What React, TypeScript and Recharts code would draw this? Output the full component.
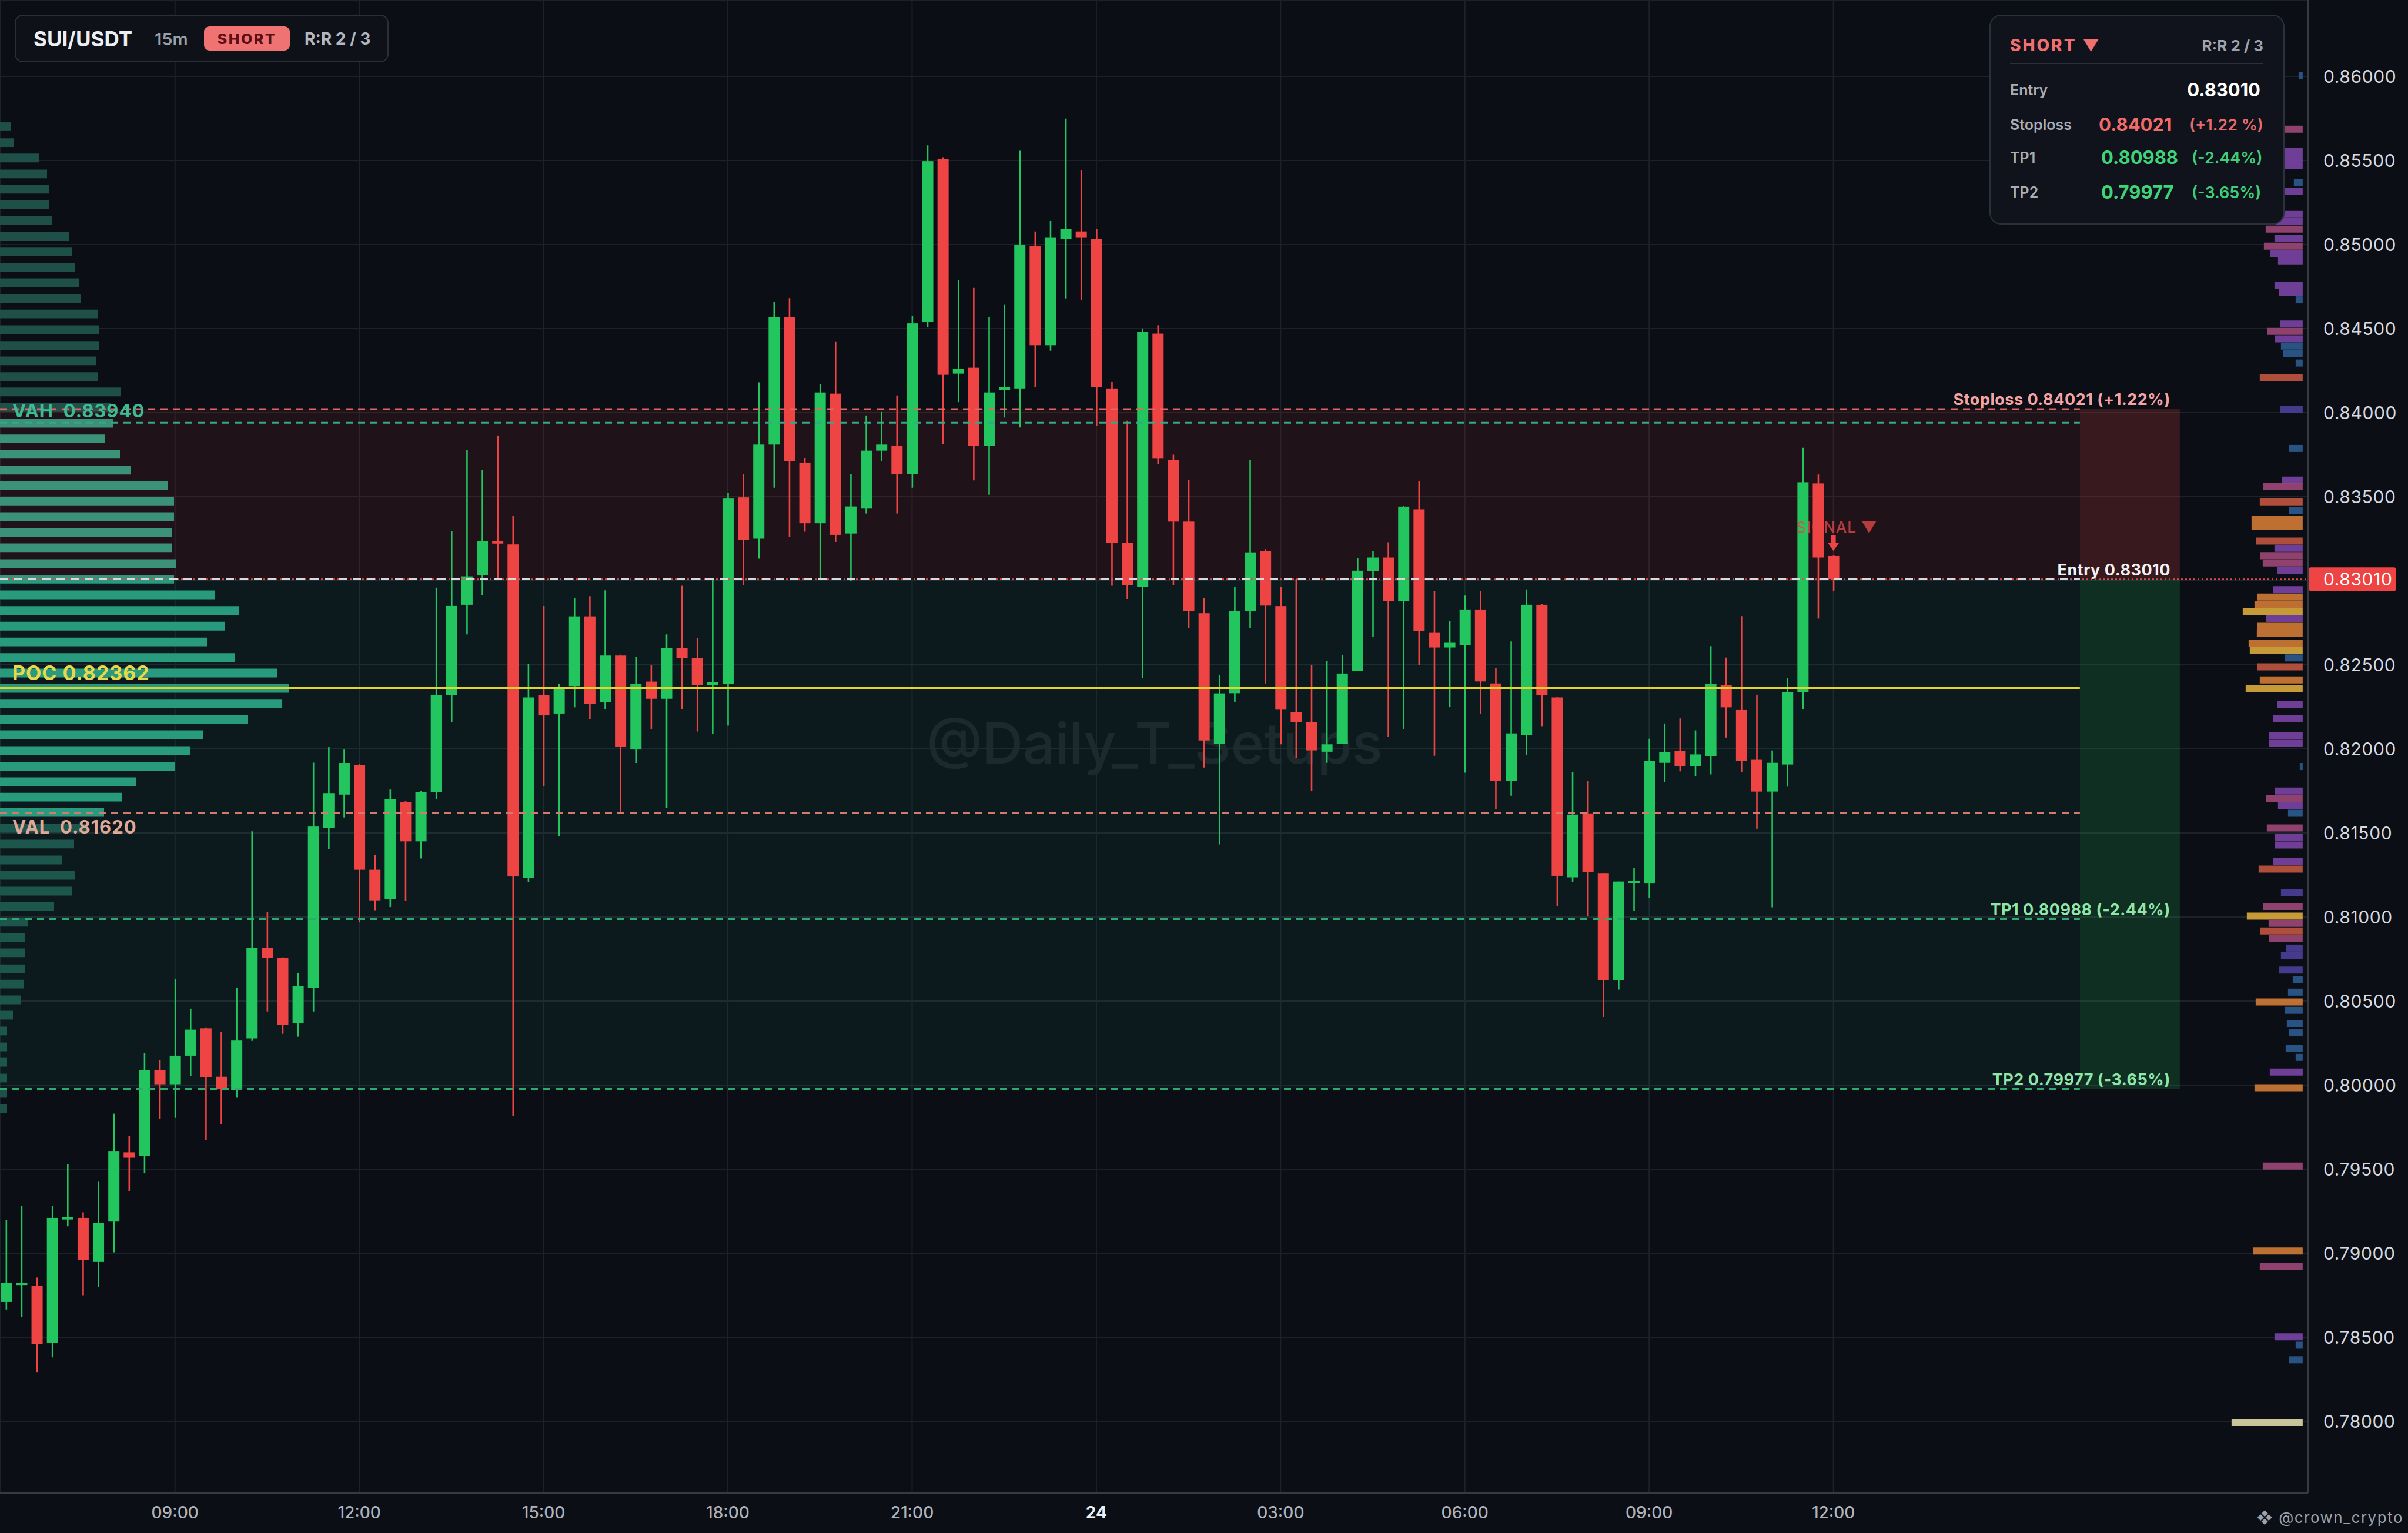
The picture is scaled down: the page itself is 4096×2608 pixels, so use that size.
import React from 'react';
import {
  ComposedChart,
  Bar,
  XAxis,
  YAxis,
  CartesianGrid,
  ReferenceLine,
  ReferenceArea,
  ReferenceDot,
} from 'recharts';

// ---------------- DATA ----------------
const opens = [
  0.7871, 0.78815, 0.78805, 0.78468, 0.79205, 0.7921, 0.78948, 0.79188, 0.796, 0.7958,
  0.80088, 0.80005, 0.80175, 0.80338, 0.8005, 0.7997, 0.80278, 0.80815, 0.80758, 0.80368,
  0.8058, 0.8153, 0.81728, 0.81905, 0.81281, 0.81107, 0.81685, 0.8145, 0.81744, 0.8232,
  0.82857, 0.83034, 0.83237, 0.83216, 0.81231, 0.8232, 0.8221, 0.82373, 0.82788, 0.82277,
  0.82555, 0.81996, 0.824, 0.82298, 0.826, 0.82539, 0.82378, 0.82387, 0.83496, 0.8325,
  0.8381, 0.8457, 0.83703, 0.83342, 0.84113, 0.83281, 0.83429, 0.83774, 0.83802, 0.83634,
  0.84541, 0.8551, 0.84232, 0.84267, 0.83803, 0.84133, 0.84144, 0.8499, 0.84401, 0.85034,
  0.85078, 0.85034, 0.84144, 0.83224, 0.82962, 0.8447, 0.83719, 0.83352, 0.82807, 0.8203,
  0.82331, 0.82821, 0.83177, 0.82849, 0.82217, 0.82159, 0.81983, 0.8203, 0.82462, 0.83057,
  0.83138, 0.8288, 0.83425, 0.8269, 0.82603, 0.82618, 0.82829, 0.82389, 0.81808, 0.82081,
  0.82857, 0.82306, 0.81236, 0.81616, 0.81258, 0.80625, 0.81205, 0.81199, 0.81917, 0.81987,
  0.81898, 0.81958, 0.82379, 0.82231, 0.81935, 0.81746, 0.81907, 0.82338, 0.83579, 0.83147,
];
const highs = [
  0.79198, 0.7928, 0.78855, 0.7928, 0.7953, 0.79243, 0.79425, 0.7983, 0.79698, 0.8019,
  0.8015, 0.8063, 0.80455, 0.8034, 0.80318, 0.8058, 0.8151, 0.8103, 0.8076, 0.80668,
  0.81918, 0.8201, 0.81996, 0.8191, 0.8137, 0.81758, 0.8169, 0.8175, 0.82959, 0.83296,
  0.83778, 0.83658, 0.83864, 0.83385, 0.82507, 0.8285, 0.82387, 0.82895, 0.82908, 0.82943,
  0.8256, 0.82547, 0.82499, 0.82681, 0.8297, 0.8266, 0.83007, 0.83524, 0.83634, 0.8418,
  0.8466, 0.84681, 0.8373, 0.84171, 0.84424, 0.83634, 0.83983, 0.84004, 0.84102, 0.84577,
  0.8559, 0.85519, 0.8479, 0.84742, 0.8457, 0.84641, 0.85558, 0.85078, 0.8514, 0.85749,
  0.85442, 0.85091, 0.84182, 0.83952, 0.84501, 0.8452, 0.8375, 0.83598, 0.82896, 0.82439,
  0.82962, 0.83719, 0.83188, 0.82962, 0.8301, 0.82498, 0.82521, 0.8256, 0.83133, 0.83177,
  0.83229, 0.83445, 0.83591, 0.8294, 0.82759, 0.82912, 0.8294, 0.82479, 0.82639, 0.82948,
  0.8286, 0.8231, 0.8186, 0.8181, 0.8126, 0.81211, 0.8129, 0.8206, 0.82151, 0.82181,
  0.8211, 0.82611, 0.82543, 0.82789, 0.82322, 0.8199, 0.8242, 0.83791, 0.83632, 0.8315,
];
const lows = [
  0.78665, 0.78622, 0.78293, 0.7838, 0.7916, 0.7875, 0.788, 0.79005, 0.79368, 0.79475,
  0.798, 0.79805, 0.80055, 0.79673, 0.79768, 0.79925, 0.80263, 0.80438, 0.80305, 0.80288,
  0.80438, 0.81405, 0.81592, 0.80968, 0.8104, 0.81059, 0.81097, 0.81348, 0.81699, 0.82159,
  0.82681, 0.82916, 0.8301, 0.79818, 0.8121, 0.81776, 0.81482, 0.82247, 0.82178, 0.82237,
  0.81621, 0.81916, 0.82119, 0.81648, 0.82237, 0.82103, 0.82087, 0.82138, 0.82974, 0.83131,
  0.83553, 0.83262, 0.83292, 0.83007, 0.83231, 0.83, 0.834, 0.83711, 0.834, 0.83553,
  0.84508, 0.83812, 0.84062, 0.83597, 0.83511, 0.83971, 0.83912, 0.84152, 0.84368, 0.84679,
  0.8467, 0.83922, 0.8297, 0.82892, 0.8242, 0.83695, 0.82974, 0.82717, 0.81889, 0.81432,
  0.8228, 0.8272, 0.82389, 0.82027, 0.81947, 0.81749, 0.81917, 0.8203, 0.82462, 0.82667,
  0.82072, 0.82119, 0.82498, 0.81959, 0.82248, 0.81858, 0.82209, 0.8164, 0.81721, 0.81963,
  0.82135, 0.81065, 0.8121, 0.81005, 0.80404, 0.80568, 0.81035, 0.81115, 0.81803, 0.81866,
  0.81839, 0.81848, 0.82067, 0.8186, 0.81525, 0.81058, 0.81775, 0.82238, 0.82775, 0.82937,
];
const closes = [
  0.78825, 0.7882, 0.7846, 0.7921, 0.7921, 0.7896, 0.7918, 0.79608, 0.79568, 0.80088,
  0.80005, 0.80175, 0.8033, 0.80048, 0.79975, 0.80265, 0.80815, 0.80758, 0.8036, 0.80588,
  0.81538, 0.81737, 0.81916, 0.81281, 0.81099, 0.81701, 0.8145, 0.81744, 0.8232, 0.8285,
  0.83026, 0.83237, 0.83221, 0.81241, 0.82306, 0.82199, 0.8236, 0.82788, 0.82269, 0.82555,
  0.82012, 0.82387, 0.82298, 0.826, 0.82539, 0.82378, 0.82397, 0.83489, 0.83243, 0.8381,
  0.8457, 0.83711, 0.83342, 0.8412, 0.83273, 0.83442, 0.83774, 0.8381, 0.83634, 0.84531,
  0.85496, 0.84225, 0.84259, 0.83803, 0.8412, 0.84152, 0.84998, 0.84401, 0.8504, 0.85091,
  0.8504, 0.84152, 0.83224, 0.82974, 0.84482, 0.83726, 0.83352, 0.82821, 0.8205, 0.8233,
  0.82821, 0.83169, 0.82852, 0.82233, 0.82159, 0.81991, 0.82027, 0.82448, 0.8306, 0.83138,
  0.8288, 0.83441, 0.82701, 0.82603, 0.82631, 0.82829, 0.82401, 0.81808, 0.82092, 0.82857,
  0.82318, 0.81245, 0.81609, 0.81267, 0.80625, 0.81211, 0.8121, 0.8193, 0.8198, 0.81898,
  0.81967, 0.82386, 0.82247, 0.81928, 0.81746, 0.81917, 0.82338, 0.83586, 0.83138, 0.8301,
];

const timeTickIdx = [11, 23, 35, 47, 59, 71, 83, 95, 107, 119];
const timeTickLabels = ['09:00', '12:00', '15:00', '18:00', '21:00', '24', '03:00', '06:00', '09:00', '12:00'];
const priceTicks = [
  0.78, 0.785, 0.79, 0.795, 0.8, 0.805, 0.81, 0.815, 0.82, 0.825, 0.83, 0.835, 0.84, 0.845, 0.85, 0.855, 0.86,
];

const ENTRY = 0.8301;
const STOPLOSS = 0.84021;
const TP1 = 0.80988;
const TP2 = 0.79977;
const VAH = 0.8394;
const POC = 0.82362;
const VAL = 0.8162;

const leftProfilePrices = [
  0.85701, 0.85606, 0.85515, 0.8542, 0.85329, 0.85236, 0.85143, 0.85047, 0.84956, 0.84864,
  0.84773, 0.8468, 0.84587, 0.84493, 0.844, 0.84308, 0.84214, 0.84123, 0.8403, 0.83937,
  0.83844, 0.83752, 0.83658, 0.83567, 0.83474, 0.83381, 0.83288, 0.83196, 0.83102, 0.83009,
  0.82916, 0.82823, 0.8273, 0.82636, 0.82543, 0.82451, 0.8236, 0.82267, 0.82175, 0.82084,
  0.8199, 0.81895, 0.81804, 0.81713, 0.81622, 0.81528, 0.81434, 0.81339, 0.81248, 0.81154,
  0.81063, 0.80969, 0.80878, 0.80787, 0.80692, 0.80601, 0.80507, 0.80416, 0.80322, 0.80227,
  0.80136, 0.80042, 0.79951, 0.7986,
];
const leftProfileVolumes = [
  19, 24, 67, 80, 84, 84, 88, 118, 123, 127,
  134, 138, 166, 169, 169, 164, 167, 205, 188, 192,
  178, 204, 222, 285, 296, 296, 293, 293, 299, 296,
  366, 407, 383, 352, 399, 472, 492, 480, 422, 346,
  323, 297, 232, 208, 177, 150, 126, 106, 128, 123,
  92, 47, 42, 42, 42, 41, 36, 22, 12, 12,
  12, 12, 12, 12,
];

const rightProfilePrices = [
  0.86005, 0.85686, 0.85556, 0.85512, 0.85469, 0.85367, 0.85315, 0.85179, 0.85136, 0.85092,
  0.85035, 0.8499, 0.84947, 0.84903, 0.84759, 0.84715, 0.84671, 0.84527, 0.84483, 0.84439,
  0.84396, 0.84353, 0.84295, 0.84208, 0.84019, 0.83787, 0.83599, 0.83561, 0.83469, 0.83416,
  0.83367, 0.83323, 0.83236, 0.83193, 0.83149, 0.83106, 0.83063, 0.82947, 0.82903, 0.8286,
  0.82816, 0.82773, 0.82729, 0.82685, 0.82628, 0.82584, 0.82541, 0.82488, 0.8241, 0.82358,
  0.82266, 0.82178, 0.82077, 0.82033, 0.81895, 0.81749, 0.81705, 0.81661, 0.81617, 0.8153,
  0.81472, 0.81428, 0.81332, 0.81285, 0.81145, 0.81063, 0.81005, 0.80962, 0.80917, 0.80874,
  0.80815, 0.80772, 0.80684, 0.80626, 0.80553, 0.80495, 0.80445, 0.80364, 0.80311, 0.80218,
  0.80165, 0.80078, 0.79984, 0.79518, 0.79013, 0.7892, 0.78503, 0.78453, 0.78366, 0.77993,
];
const rightProfileVolumes = [
  7, 30, 30, 30, 30, 15, 30, 48, 48, 63,
  48, 66, 55, 42, 48, 40, 12, 38, 60, 47,
  37, 33, 12, 73, 38, 23, 35, 67, 73, 23,
  87, 87, 79, 48, 72, 68, 43, 50, 77, 82,
  102, 62, 77, 78, 92, 90, 30, 77, 73, 97,
  43, 50, 57, 57, 5, 47, 62, 42, 25, 61,
  47, 47, 50, 75, 37, 67, 95, 58, 72, 57,
  28, 37, 40, 17, 25, 80, 30, 27, 23, 29,
  12, 56, 82, 68, 84, 73, 48, 12, 23, 121,
];
// b=blue, m=mauve, p=purple, r=rust, o=orange, y=yellow, i=indigo, c=cream
const rightProfileKinds = [
  'b', 'm', 'p', 'p', 'p', 'b', 'p', 'p', 'p', 'm',
  'p', 'm', 'p', 'p', 'p', 'p', 'b', 'p', 'm', 'p',
  'b', 'b', 'b', 'r', 'i', 'b', 'p', 'm', 'r', 'b',
  'o', 'o', 'r', 'p', 'm', 'm', 'p', 'p', 'o', 'o',
  'y', 'p', 'o', 'o', 'o', 'y', 'b', 'r', 'o', 'y',
  'p', 'p', 'p', 'p', 'b', 'p', 'm', 'p', 'b', 'm',
  'p', 'p', 'p', 'r', 'i', 'm', 'y', 'm', 'r', 'm',
  'i', 'i', 'i', 'b', 'b', 'o', 'b', 'b', 'b', 'b',
  'b', 'p', 'o', 'm', 'o', 'm', 'p', 'b', 'b', 'c',
];

// ---------------- LAYOUT / STYLE ----------------
const W = 4096;
const H = 2608;
const BG = '#0b0e15';
const GREEN = '#22c55e';
const RED = '#ef4444';
const FONT = 'Inter, "Noto Sans", "DejaVu Sans", sans-serif';

const Y_MIN = 0.775734;
const Y_MAX = 0.864545;
const X_MIN = -0.398;
const X_MAX = 149.91;
const PX_PER_BAR = 26.12;
const VOL_X = 1 / PX_PER_BAR;
const ZONE_END = 135.05;
const BOX_END = 141.56;
const PROFILE_RIGHT = 149.56;
const RIGHT_LABEL_X = 140.95;
const LEFT_LABEL_X = 0.406;
const LP_HALF = 0.00026;
const RP_HALF = 0.00021;

const kindColor: Record<string, string> = {
  b: '#2b5b8f',
  m: '#9c4877',
  p: '#7a45a6',
  r: '#c0553f',
  o: '#d27b36',
  y: '#dcaa3c',
  i: '#4b3f98',
  c: '#ded7a8',
};

const candles = opens.map((o, i) => ({
  i,
  o,
  h: highs[i],
  l: lows[i],
  c: closes[i],
  range: [lows[i], highs[i]],
}));

const pct = (v: number) => ((v / ENTRY - 1) * 100).toFixed(2);

const Candle = (props: any) => {
  const { x, y, width, height, payload } = props;
  if (!payload || x == null || y == null) return <g />;
  const { o, h, l, c } = payload;
  const top = Math.min(y, y + height);
  const bottom = Math.max(y, y + height);
  const py = (p: number) => top + ((h - p) / (h - l)) * (bottom - top);
  const up = c >= o;
  const color = up ? GREEN : RED;
  const cx = x + width / 2;
  const bTop = py(Math.max(o, c));
  const bBot = py(Math.min(o, c));
  const bh = Math.max(bBot - bTop, 4);
  return (
    <g>
      <line x1={cx} x2={cx} y1={top} y2={bottom} stroke={color} strokeWidth={2.6} />
      <rect x={x} y={bTop - (bh - (bBot - bTop)) / 2} width={width} height={bh} fill={color} />
    </g>
  );
};

const PriceTick = (props: any) => {
  const { x, y, payload } = props;
  if (Math.abs(payload.value - ENTRY) < 0.0015) return <g />;
  return (
    <text
      x={x}
      y={y}
      fill="#d7dae0"
      fontSize={30}
      fontFamily={FONT}
      letterSpacing={0.6}
      dominantBaseline="central"
      textAnchor="start"
    >
      {Number(payload.value).toFixed(5)}
    </text>
  );
};

const TimeTick = (props: any) => {
  const { x, y, payload } = props;
  const k = timeTickIdx.indexOf(payload.value);
  const label = k >= 0 ? timeTickLabels[k] : '';
  const bold = label === '24';
  return (
    <text
      x={x}
      y={y + 25}
      fill={bold ? '#eceef2' : '#aeb2bb'}
      fontSize={28}
      fontWeight={bold ? 700 : 500}
      fontFamily={FONT}
      textAnchor="middle"
      dominantBaseline="central"
    >
      {label}
    </text>
  );
};

const textShape = (
  text: string,
  dy: number,
  color: string,
  size: number,
  anchor: 'start' | 'end' | 'middle',
  weight = 700,
  spacing = 1,
) => (p: any) => (
  <text
    x={p.cx}
    y={p.cy + dy}
    fill={color}
    fontSize={size}
    fontWeight={weight}
    fontFamily={FONT}
    letterSpacing={spacing}
    textAnchor={anchor}
    dominantBaseline="central"
    style={{ whiteSpace: 'pre' }}
  >
    {text}
  </text>
);

const Abs = ({ x, y, right, children, style }: any) => (
  <div
    style={{
      position: 'absolute',
      left: right ? undefined : x,
      right: right ? W - x : undefined,
      top: y,
      transform: 'translateY(-50%)',
      lineHeight: 1,
      whiteSpace: 'pre',
      fontFamily: FONT,
      ...style,
    }}
  >
    {children}
  </div>
);

const layer = (z: number): React.CSSProperties => ({
  position: 'absolute',
  left: 0,
  top: 0,
  width: W,
  height: H,
  zIndex: z,
  pointerEvents: 'none',
});

export default function App() {
  return (
    <div style={{ position: 'relative', width: W, height: H, background: BG, overflow: 'hidden' }}>
      <style>{`body{margin:0;background:${BG};}`}</style>

      {/* watermark */}
      <div
        style={{
          position: 'absolute',
          left: 1964,
          top: 1264,
          transform: 'translate(-50%,-50%)',
          fontFamily: FONT,
          fontSize: 96,
          fontWeight: 500,
          color: 'rgba(255,255,255,0.075)',
          whiteSpace: 'nowrap',
          zIndex: 0,
        }}
      >
        @Daily_T_Setups
      </div>

      <div style={{ position: 'absolute', left: 0, top: 0, zIndex: 1 }}>
        <ComposedChart width={W} height={H} data={candles} margin={{ top: 0, right: 0, bottom: 0, left: 0 }}>
          <CartesianGrid stroke="#1d2129" strokeWidth={2} />
          <XAxis
            type="number"
            dataKey="i"
            domain={[X_MIN, X_MAX]}
            allowDataOverflow
            ticks={timeTickIdx}
            interval={0}
            tickLine={false}
            tickMargin={2}
            axisLine={{ stroke: '#353a45', strokeWidth: 2 }}
            tick={(p: any) => <TimeTick {...p} />}
            height={68}
          />
          <YAxis
            orientation="right"
            type="number"
            domain={[Y_MIN, Y_MAX]}
            allowDataOverflow
            ticks={priceTicks}
            interval={0}
            width={170}
            tickLine={false}
            tickSize={6}
            tickMargin={20}
            axisLine={{ stroke: '#353a45', strokeWidth: 2 }}
            tick={(p: any) => <PriceTick {...p} />}
          />

          {/* left volume profile */}
          {leftProfilePrices.map((p, k) => {
            const inVA = p >= VAL - 0.0001 && p <= VAH + 0.0001;
            return (
              <ReferenceArea
                key={'lp' + k}
                x1={X_MIN}
                x2={X_MIN + leftProfileVolumes[k] * VOL_X}
                y1={p - LP_HALF}
                y2={p + LP_HALF}
                fill={inVA ? '#2a9a7e' : '#1e4f48'}
                fillOpacity={1}
                stroke="none"
                ifOverflow="hidden"
              />
            );
          })}

          {/* right heat profile */}
          {rightProfilePrices.map((p, k) => (
            <ReferenceArea
              key={'rp' + k}
              x1={PROFILE_RIGHT - rightProfileVolumes[k] * VOL_X}
              x2={PROFILE_RIGHT}
              y1={p - RP_HALF}
              y2={p + RP_HALF}
              fill={kindColor[rightProfileKinds[k]]}
              fillOpacity={0.9}
              stroke="none"
              ifOverflow="hidden"
            />
          ))}

          {/* trade zones */}
          <ReferenceArea x1={X_MIN} x2={ZONE_END} y1={ENTRY} y2={STOPLOSS} fill={RED} fillOpacity={0.09} stroke="none" ifOverflow="hidden" />
          <ReferenceArea x1={X_MIN} x2={ZONE_END} y1={TP2} y2={ENTRY} fill="#14b88a" fillOpacity={0.08} stroke="none" ifOverflow="hidden" />
          <ReferenceArea x1={ZONE_END} x2={BOX_END} y1={ENTRY} y2={STOPLOSS} fill={RED} fillOpacity={0.2} stroke="none" ifOverflow="hidden" />
          <ReferenceArea x1={ZONE_END} x2={BOX_END} y1={TP2} y2={ENTRY} fill={GREEN} fillOpacity={0.18} stroke="none" ifOverflow="hidden" />

          {/* level lines */}
          <ReferenceLine segment={[{ x: X_MIN, y: STOPLOSS }, { x: ZONE_END, y: STOPLOSS }]} stroke="#e46464" strokeWidth={3} strokeDasharray="12 9" ifOverflow="hidden" />
          <ReferenceLine segment={[{ x: X_MIN, y: VAH }, { x: ZONE_END, y: VAH }]} stroke="#34a888" strokeWidth={3} strokeDasharray="12 9" ifOverflow="hidden" />
          <ReferenceLine segment={[{ x: X_MIN, y: ENTRY }, { x: X_MAX, y: ENTRY }]} stroke="#e24c4c" strokeWidth={2} strokeDasharray="3 4" ifOverflow="hidden" />
          <ReferenceLine segment={[{ x: X_MIN, y: ENTRY }, { x: ZONE_END, y: ENTRY }]} stroke="#d8d8de" strokeWidth={3} strokeDasharray="14 10" ifOverflow="hidden" />
          <ReferenceLine segment={[{ x: X_MIN, y: POC }, { x: ZONE_END, y: POC }]} stroke="#e6d22e" strokeWidth={4} ifOverflow="hidden" />
          <ReferenceLine segment={[{ x: X_MIN, y: VAL }, { x: ZONE_END, y: VAL }]} stroke="#d47a6c" strokeWidth={3} strokeDasharray="12 9" ifOverflow="hidden" />
          <ReferenceLine segment={[{ x: X_MIN, y: TP1 }, { x: ZONE_END, y: TP1 }]} stroke="#2faa6e" strokeWidth={3} strokeDasharray="12 9" ifOverflow="hidden" />
          <ReferenceLine segment={[{ x: X_MIN, y: TP2 }, { x: ZONE_END, y: TP2 }]} stroke="#2faa6e" strokeWidth={3} strokeDasharray="12 9" ifOverflow="hidden" />

          {/* candles */}
          <Bar dataKey="range" barSize={19} isAnimationActive={false} shape={(p: any) => <Candle {...p} />} />

          {/* level labels */}
          <ReferenceDot x={LEFT_LABEL_X} y={VAH} r={0} ifOverflow="visible" shape={textShape(`VAH  ${VAH.toFixed(5)}`, -21, '#3dbb94', 31, 'start')} />
          <ReferenceDot x={LEFT_LABEL_X} y={POC} r={0} ifOverflow="visible" shape={textShape(`POC ${POC.toFixed(5)}`, -26, '#e8d84a', 34, 'start')} />
          <ReferenceDot x={LEFT_LABEL_X} y={VAL} r={0} ifOverflow="visible" shape={textShape(`VAL  ${VAL.toFixed(5)}`, 24, '#e0a898', 31, 'start')} />
          <ReferenceDot x={RIGHT_LABEL_X} y={STOPLOSS} r={0} ifOverflow="visible" shape={textShape(`Stoploss ${STOPLOSS.toFixed(5)} (+${pct(STOPLOSS)}%)`, -16, '#f4a2a2', 27, 'end', 700, 0.5)} />
          <ReferenceDot x={RIGHT_LABEL_X} y={ENTRY} r={0} ifOverflow="visible" shape={textShape(`Entry ${ENTRY.toFixed(5)}`, -16, '#f2f2f4', 27, 'end', 700, 0.5)} />
          <ReferenceDot x={RIGHT_LABEL_X} y={TP1} r={0} ifOverflow="visible" shape={textShape(`TP1 ${TP1.toFixed(5)} (${pct(TP1)}%)`, -16, '#8ee6a8', 27, 'end', 700, 0.5)} />
          <ReferenceDot x={RIGHT_LABEL_X} y={TP2} r={0} ifOverflow="visible" shape={textShape(`TP2 ${TP2.toFixed(5)} (${pct(TP2)}%)`, -16, '#8ee6a8', 27, 'end', 700, 0.5)} />

          {/* signal marker on last candle */}
          <ReferenceDot
            x={candles.length - 1}
            y={highs[highs.length - 1]}
            r={0}
            ifOverflow="visible"
            shape={(p: any) => (
              <g>
                <text
                  x={p.cx + 6}
                  y={p.cy - 49}
                  fill="#e04848"
                  fillOpacity={0.8}
                  fontSize={26}
                  fontWeight={500}
                  fontFamily={FONT}
                  letterSpacing={1}
                  textAnchor="middle"
                  dominantBaseline="central"
                >
                  SIGNAL ▼
                </text>
                <path
                  d={`M ${p.cx - 4} ${p.cy - 34} L ${p.cx + 4} ${p.cy - 34} L ${p.cx + 4} ${p.cy - 22} L ${p.cx + 10} ${p.cy - 22} L ${p.cx} ${p.cy - 8} L ${p.cx - 10} ${p.cy - 22} L ${p.cx - 4} ${p.cy - 22} Z`}
                  fill="#ef4444"
                />
              </g>
            )}
          />

          {/* entry price badge on axis */}
          <ReferenceDot
            x={X_MAX}
            y={ENTRY}
            r={0}
            ifOverflow="visible"
            shape={(p: any) => (
              <g>
                <rect x={p.cx + 1} y={p.cy - 20} width={149} height={40} rx={4} fill="#ef4444" />
                <text
                  x={p.cx + 26}
                  y={p.cy}
                  fill="#ffffff"
                  fontSize={30}
                  fontFamily={FONT}
                  letterSpacing={0.6}
                  dominantBaseline="central"
                >
                  {ENTRY.toFixed(5)}
                </text>
              </g>
            )}
          />
        </ComposedChart>
      </div>

      {/* header */}
      <div
        style={{
          position: 'absolute',
          left: 25,
          top: 25,
          width: 632,
          height: 77,
          border: '2px solid #2a2f3a',
          borderRadius: 14,
          background: '#0e1118',
          zIndex: 2,
        }}
      />
      <div style={layer(3)}>
        <Abs x={57} y={66} style={{ fontSize: 35, fontWeight: 700, color: '#eceef2' }}>SUI/USDT</Abs>
        <Abs x={263} y={66} style={{ fontSize: 29, fontWeight: 600, color: '#9aa0ab' }}>15m</Abs>
        <div
          style={{
            position: 'absolute',
            left: 347,
            top: 45,
            width: 146,
            height: 41,
            borderRadius: 9,
            background: '#f07373',
            display: 'flex',
            alignItems: 'center',
            justifyContent: 'center',
            fontFamily: FONT,
            fontSize: 25,
            fontWeight: 800,
            letterSpacing: 2.5,
            color: '#5c0f14',
          }}
        >
          SHORT
        </div>
        <Abs x={518} y={66} style={{ fontSize: 28, fontWeight: 700, color: '#b3b7c2' }}>R:R 2 / 3</Abs>
      </div>

      {/* info box */}
      <div
        style={{
          position: 'absolute',
          left: 3384,
          top: 25,
          width: 498,
          height: 353,
          border: '2px solid #2a303c',
          borderRadius: 20,
          background: '#10131b',
          zIndex: 2,
        }}
      />
      <div style={layer(3)}>
        <Abs x={3419} y={77} style={{ fontSize: 28, fontWeight: 800, color: '#f07070', letterSpacing: 3 }}>SHORT ▼</Abs>
        <Abs x={3850} y={78} right style={{ fontSize: 26, fontWeight: 700, color: '#9ea3ae' }}>R:R 2 / 3</Abs>
        <div style={{ position: 'absolute', left: 3419, top: 107, width: 431, height: 2, background: '#2b313c' }} />
        <Abs x={3419} y={153} style={{ fontSize: 25, fontWeight: 600, color: '#a9adb8' }}>Entry</Abs>
        <Abs x={3845} y={152} right style={{ fontSize: 31, fontWeight: 700, color: '#ffffff' }}>{ENTRY.toFixed(5)}</Abs>
        <Abs x={3419} y={212} style={{ fontSize: 25, fontWeight: 600, color: '#a9adb8' }}>Stoploss</Abs>
        <Abs x={3570} y={211} style={{ fontSize: 31, fontWeight: 700, color: '#f26b6b' }}>{STOPLOSS.toFixed(5)}</Abs>
        <Abs x={3724} y={212} style={{ fontSize: 27, fontWeight: 600, color: '#e86a6a' }}>{`(+${pct(STOPLOSS)} %)`}</Abs>
        <Abs x={3419} y={268} style={{ fontSize: 25, fontWeight: 600, color: '#a9adb8' }}>TP1</Abs>
        <Abs x={3574} y={267} style={{ fontSize: 31, fontWeight: 700, color: '#3fd47a' }}>{TP1.toFixed(5)}</Abs>
        <Abs x={3728} y={268} style={{ fontSize: 27, fontWeight: 600, color: '#3fcf78' }}>{`(${pct(TP1)}%)`}</Abs>
        <Abs x={3419} y={327} style={{ fontSize: 25, fontWeight: 600, color: '#a9adb8' }}>TP2</Abs>
        <Abs x={3574} y={326} style={{ fontSize: 31, fontWeight: 700, color: '#3fd47a' }}>{TP2.toFixed(5)}</Abs>
        <Abs x={3728} y={327} style={{ fontSize: 27, fontWeight: 600, color: '#3fcf78' }}>{`(${pct(TP2)}%)`}</Abs>
      </div>

      {/* credit */}
      <div style={layer(3)}>
        <Abs x={4088} y={2582} right style={{ fontSize: 26, color: '#9ca1ab', letterSpacing: 1.5 }}>❖ @crown_crypto</Abs>
      </div>
    </div>
  );
}
